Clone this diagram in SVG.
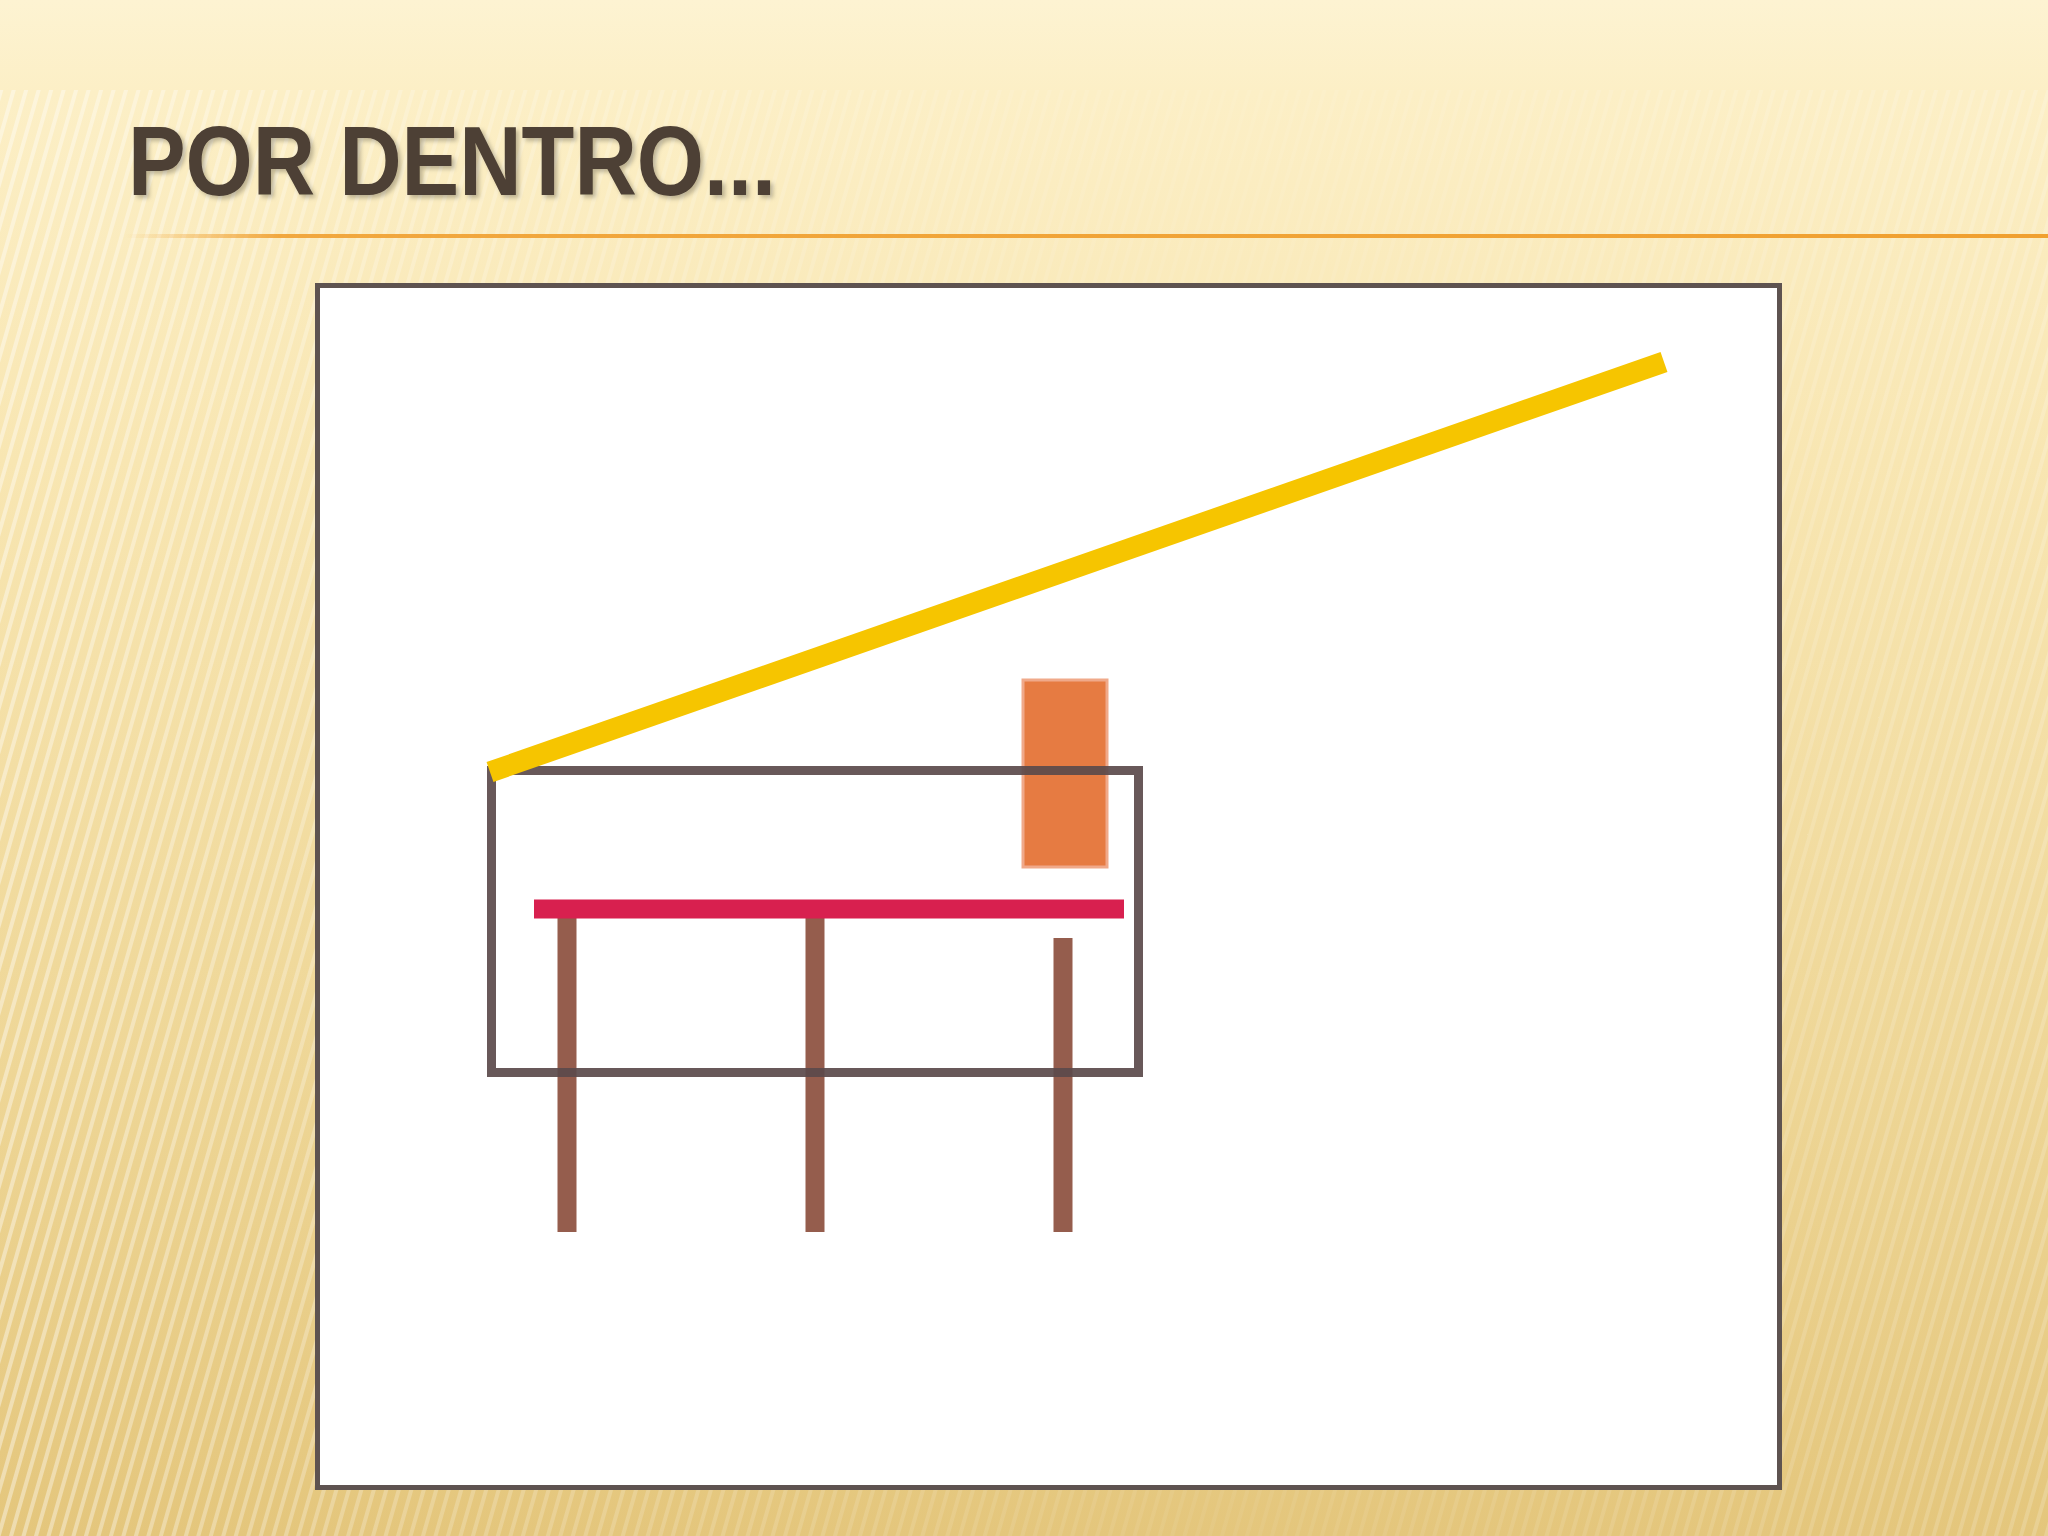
<svg xmlns="http://www.w3.org/2000/svg" width="2048" height="1536" viewBox="0 0 2048 1536">
  <defs>
    <linearGradient id="bg" x1="0" y1="0" x2="0" y2="1">
      <stop offset="0" stop-color="#fdf3d2"/>
      <stop offset="0.06" stop-color="#fcefc6"/>
      <stop offset="0.3" stop-color="#f8e6b2"/>
      <stop offset="0.7" stop-color="#eed696"/>
      <stop offset="1" stop-color="#e4c67c"/>
    </linearGradient>
    <linearGradient id="rule" x1="0" y1="0" x2="1" y2="0">
      <stop offset="0" stop-color="#f0a030" stop-opacity="0"/>
      <stop offset="0.08" stop-color="#f0a030" stop-opacity="0.9"/>
      <stop offset="1" stop-color="#f0a030"/>
    </linearGradient>
    <pattern id="stripes" width="12" height="40" patternUnits="userSpaceOnUse" patternTransform="rotate(16)">
      <rect x="0" y="0" width="4" height="40" fill="#ffffff" fill-opacity="0.4"/>
    </pattern>
    <linearGradient id="fadeL" x1="0" y1="0" x2="1" y2="0">
      <stop offset="0" stop-color="#fff" stop-opacity="1"/>
      <stop offset="0.2" stop-color="#fff" stop-opacity="0.55"/>
      <stop offset="0.6" stop-color="#fff" stop-opacity="0.15"/>
      <stop offset="1" stop-color="#fff" stop-opacity="0.45"/>
    </linearGradient>
    <mask id="stripeMask">
      <rect x="0" y="90" width="2048" height="1446" fill="url(#fadeL)"/>
    </mask>
    <filter id="shadow" x="-5%" y="-20%" width="110%" height="140%">
      <feDropShadow dx="3" dy="3" stdDeviation="2" flood-color="#000" flood-opacity="0.25"/>
    </filter>
    <style>
      .title { font-family: "Liberation Sans", Arial, sans-serif; font-weight: bold; font-size: 98px; fill: #4d4034; }
      .frame { fill: #ffffff; stroke: #5e5350; stroke-width: 5; }
      .roof { stroke: #f6c500; stroke-width: 21; stroke-linecap: butt; fill: none; }
      .box { fill: none; stroke: #5b4a4b; stroke-width: 9; stroke-opacity: 0.92; }
      .chimney { fill: #e67b42; stroke: #f0a98a; stroke-width: 3; }
      .beam { stroke: #d8204f; stroke-width: 19; }
      .post { stroke: #955d4d; stroke-width: 19; }
    </style>
  </defs>

  <g id="background">
    <rect x="0" y="0" width="2048" height="1536" fill="url(#bg)"/>
    <rect x="0" y="90" width="2048" height="1446" fill="url(#stripes)" mask="url(#stripeMask)"/>
  </g>

  <g id="title-group">
    <text class="title" x="128" y="195" textLength="648" lengthAdjust="spacingAndGlyphs" filter="url(#shadow)">POR DENTRO...</text>
    <rect x="125" y="234" width="1923" height="4" fill="url(#rule)"/>
  </g>

  <g id="frame">
    <rect class="frame" x="317.5" y="285.5" width="1462" height="1202"/>
  </g>

  <g id="posts">
    <line class="post" x1="567" y1="916" x2="567" y2="1232"/>
    <line class="post" x1="815" y1="916" x2="815" y2="1232"/>
    <line class="post" x1="1063" y1="938" x2="1063" y2="1232"/>
  </g>

  <g id="chimney">
    <rect class="chimney" x="1023" y="680" width="84" height="187"/>
  </g>

  <g id="house-box">
    <rect class="box" x="491.5" y="770.5" width="647" height="302"/>
  </g>

  <g id="beam">
    <line class="beam" x1="534" y1="909" x2="1124" y2="909"/>
  </g>

  <g id="roof">
    <line class="roof" x1="490" y1="772" x2="1664" y2="362"/>
  </g>
</svg>
